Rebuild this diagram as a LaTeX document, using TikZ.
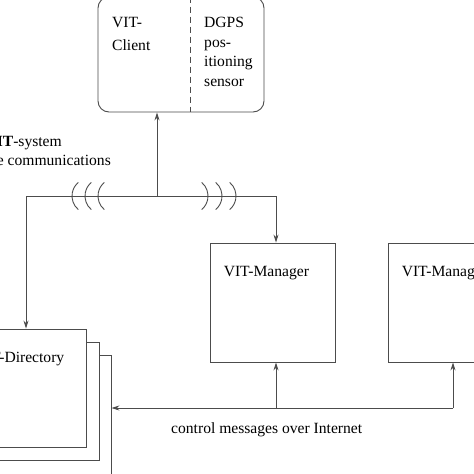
\documentclass[tikz,border=0pt]{standalone}
\usepackage{fontspec}
\setmainfont{Liberation Serif}
\usetikzlibrary{arrows.meta,calc,positioning}
\definecolor{lncol}{gray}{0.3}

\begin{document}
\begin{tikzpicture}[x=1pt, y=-1pt, >={Stealth[length=8pt,width=5pt,inset=2.5pt]},
                    font=\fontsize{15.6}{19.5}\selectfont]
\def \lw {0.9pt}
  \tikzstyle{block} = [draw=lncol, fill=white, rectangle, line width=\lw, inner sep=0,
                       minimum width=125pt, minimum height=119pt]
  \tikzstyle{client} = [block, rounded corners=11pt, minimum width=166pt, minimum height=115pt]
  \tikzstyle{lbl} = [anchor=base west, inner sep=0, align=left]
  \tikzstyle{lines} = [lncol, line width=\lw, ->]
  \tikzstyle{lines2} = [lncol, line width=\lw, -]
  \tikzstyle{lines3} = [lncol, line width=\lw, -, dash pattern=on 6pt off 4pt]

\fill[white] (0,0) rectangle (474,474);
\clip (0,0) rectangle (474,474);

%%%%%%%%%%%%%%%%%%%%%%%%%%%%%%%%%%%%%%%%%%%%%%%%%%%%%%%%%%%%%%%%%%%%%%%%%%%%%%%

\coordinate (client_pose) at (181, 54.5);
\coordinate (mgrA_pose) at (272.5, 302.5);
\coordinate (mgrB_pose) at (450.5, 302.5);
\coordinate (dirA_pose) at (23.5, 388);
\coordinate (dirB_pose) at (36.5, 401);
\coordinate (dirC_pose) at (48.5, 415);

\coordinate (split) at (190, 0);
\coordinate (hub) at (157, 196);
\coordinate (wl) at (26, 196);
\coordinate (wr) at (276, 196);
\coordinate (busA) at (276, 408);
\coordinate (busB) at (453, 408);

%%%%%%%%%%%%%%%%%%%%%%%%%%%%%%%%%%%%%%%%%%%%%%%%%%%%%%%%%%%%%%%%%%%%%%%%%%%%%%%

\node[client] (client) at (client_pose) {};
\node[block] (mgrA) at (mgrA_pose) {};
\node[block] (mgrB) at (mgrB_pose) {};
\node[block, minimum height=120pt] (dirC) at (dirC_pose) {};
\node[block, minimum height=118pt] (dirB) at (dirB_pose) {};
\node[block, minimum height=118pt] (dirA) at (dirA_pose) {};

\draw[lines3] (split |- client.north) -- (split |- client.south);

\node[lbl, font=\fontsize{15.6}{23}\selectfont] (clientTxt) at (112, 50) {VIT-\\Client};
\node[lbl] (sensorTxt) at (204, 86) {DGPS\\pos-\\itioning\\sensor};
\node[lbl] (mgrATxt) at ($(mgrA.north west)+(14,34)$) {VIT-Manager};
\node[lbl] (mgrBTxt) at ($(mgrB.north west)+(14,34)$) {VIT-Manager};
\node[lbl] (dirTxt) at ($(dirA.north west)+(14,34)$) {VIT-Directory};

\node[anchor=base east, inner sep=0] (sysTxt) at (62, 146) {\textbf{VIT}-system};
\node[anchor=base east, inner sep=0] (commTxt) at (111, 165) {mobile communications};
\node[anchor=base west, inner sep=0] (netTxt) at (171, 433) {control messages over Internet};

%%%%%%%%%%%%%%%%%%%%%%%%%%%%%%%%%%%%%%%%%%%%%%%%%%%%%%%%%%%%%%%%%%%%%%%%%%%%%%%

\draw[lines] (hub) -- (hub |- client.south);
\draw[lines2] (wl) -- (wr);
\draw[lines] (wl) -- (wl |- dirA.north);
\draw[lines] (wr) -- (wr |- mgrA.north);

\foreach \x in {72, 85, 98}
  \draw[lines2] (\x+17.7, 196) ++(130:17.7) arc[start angle=130, end angle=230, radius=17.7];
\foreach \x in {208, 222, 236}
  \draw[lines2] (\x-17.7, 196) ++(-50:17.7) arc[start angle=-50, end angle=50, radius=17.7];

\draw[lines] (busA) -- (busA |- mgrA.south);
\draw[lines] (busB) -- (busB |- mgrB.south);
\draw[lines] (busB) -- (busB -| dirC.east);

\end{tikzpicture}
\end{document}
